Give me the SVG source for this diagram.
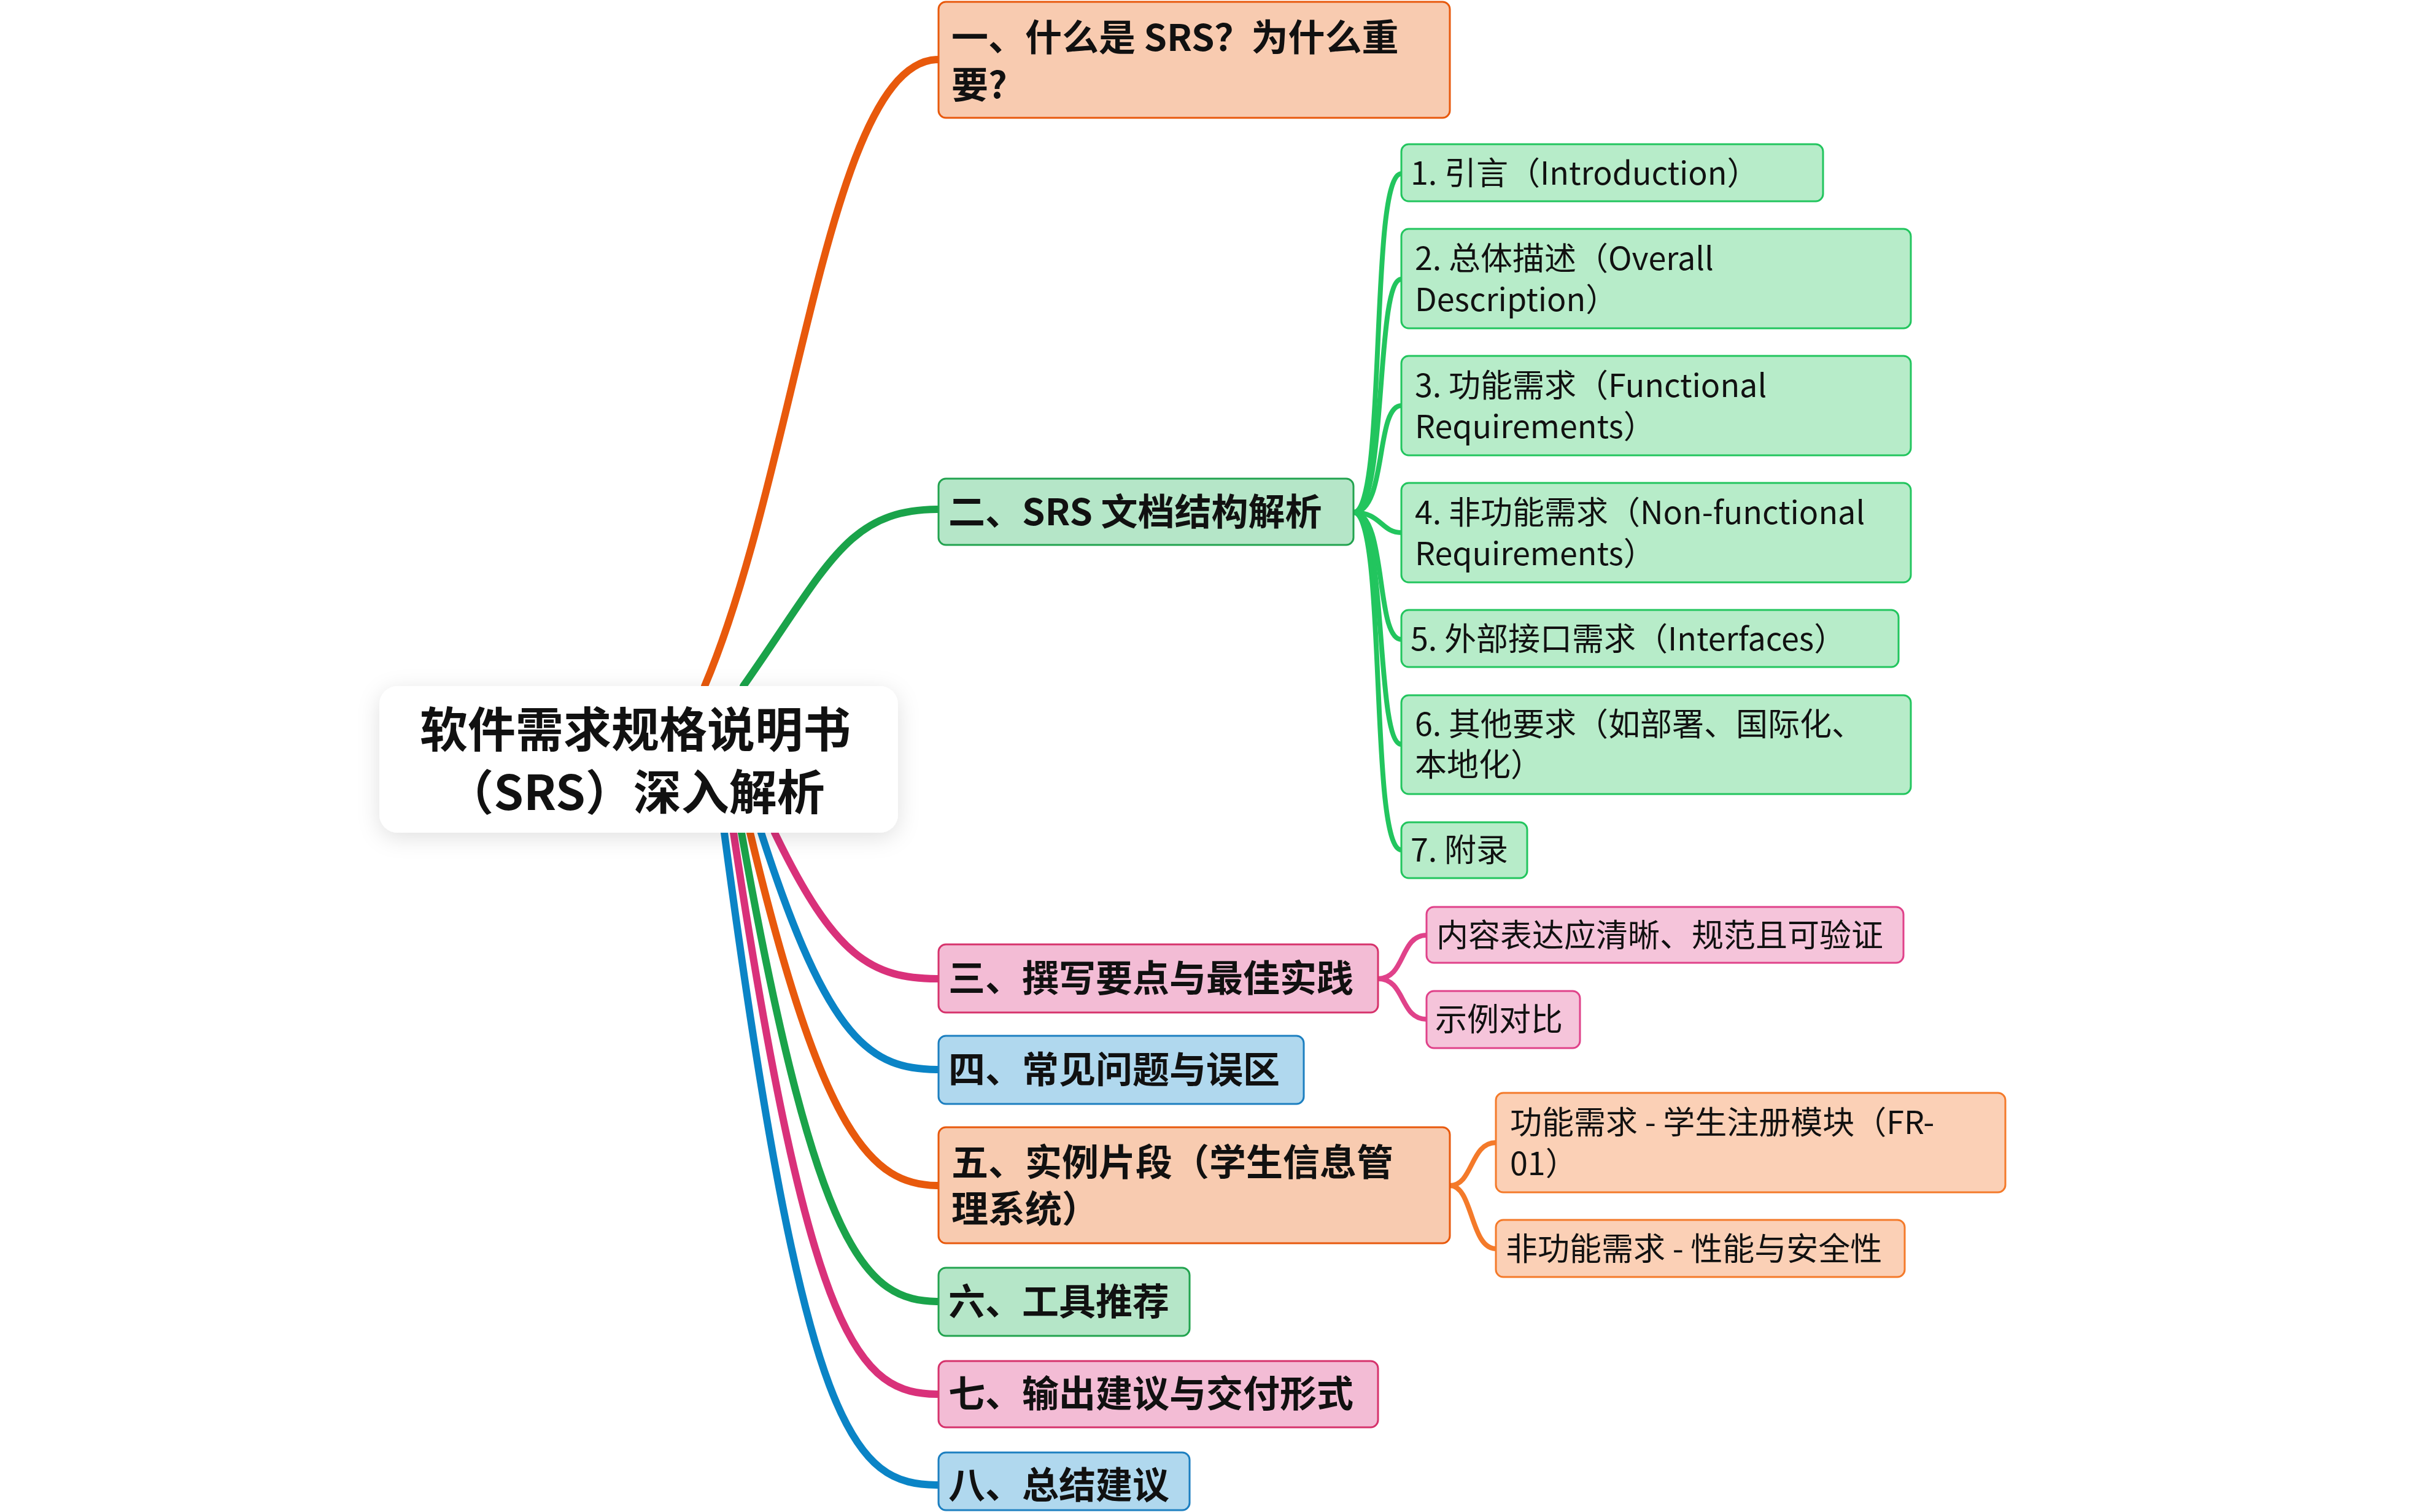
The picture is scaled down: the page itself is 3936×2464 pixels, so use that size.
<svg xmlns="http://www.w3.org/2000/svg" width="3936" height="2464" viewBox="0 0 3936 2464">
<defs>
<filter id="sh" x="-20%" y="-30%" width="140%" height="160%"><feDropShadow dx="0" dy="8" stdDeviation="18" flood-color="#000" flood-opacity="0.12"/></filter>
<style>
text{font-family:"Noto Sans CJK SC","Noto Sans",sans-serif;fill:#111}
.r{font-size:78px;font-weight:700}
.l1{font-size:60px;font-weight:700}
.l2{font-size:52px}
.c{fill:none;stroke-width:12;stroke-linecap:round}
.c2{fill:none;stroke-width:8;stroke-linecap:round}
.o{fill:#f8cbb0;stroke:#e8590c;stroke-width:3}
.g{fill:#b5e6c8;stroke:#22a34f;stroke-width:3}
.gc{fill:#b7ecc9;stroke:#22c55e;stroke-width:3}
.p{fill:#f3bcd5;stroke:#d6336c;stroke-width:3}
.pc{fill:#f5c4da;stroke:#e0428a;stroke-width:3}
.b{fill:#b0d8ee;stroke:#1c7fc0;stroke-width:3}
.oc{fill:#fbd0b6;stroke:#f47a2a;stroke-width:3}
</style>
</defs>
<g id="connectors">
<path class="c" stroke="#e8590c" d="M1148 1118 C1300 760 1350 97 1529 97"/>
<path class="c" stroke="#1aa34a" d="M1211 1118 C1350 920 1380 830 1529 830"/>
<path class="c" stroke="#d9317a" d="M1262 1357 C1360 1560 1420 1595 1529 1595"/>
<path class="c" stroke="#0a84c6" d="M1240 1357 C1350 1700 1420 1743 1529 1743"/>
<path class="c" stroke="#e8590c" d="M1222 1357 C1340 1850 1420 1932 1529 1932"/>
<path class="c" stroke="#1aa34a" d="M1208 1357 C1330 2040 1410 2121 1529 2121"/>
<path class="c" stroke="#d9317a" d="M1195 1357 C1320 2190 1400 2272 1529 2272"/>
<path class="c" stroke="#0a84c6" d="M1180 1357 C1310 2340 1390 2420 1529 2420"/>
<g stroke="#22c55e">
<path class="c2" d="M2205 835 C2260 835 2230 283 2283 283"/>
<path class="c2" d="M2205 835 C2260 835 2240 455 2283 455"/>
<path class="c2" d="M2205 835 C2260 835 2240 661 2283 661"/>
<path class="c2" d="M2205 835 C2250 835 2250 868 2283 868"/>
<path class="c2" d="M2205 835 C2260 835 2240 1042 2283 1042"/>
<path class="c2" d="M2205 835 C2260 835 2240 1213 2283 1213"/>
<path class="c2" d="M2205 835 C2260 835 2230 1385 2283 1385"/>
</g>
<path class="c2" stroke="#e0428a" d="M2245 1595 C2290 1595 2280 1524 2324 1524"/>
<path class="c2" stroke="#e0428a" d="M2245 1595 C2290 1595 2280 1661 2324 1661"/>
<path class="c2" stroke="#f47a2a" d="M2362 1932 C2400 1932 2395 1862 2437 1862"/>
<path class="c2" stroke="#f47a2a" d="M2362 1932 C2400 1932 2395 2035 2437 2035"/>
</g>
<g id="root"><rect x="618" y="1118" width="845" height="239" rx="30" fill="#fff" filter="url(#sh)"/>
<text class="r" x="1035" y="1218" text-anchor="middle">软件需求规格说明书</text>
<text class="r" x="1035" y="1320" text-anchor="middle">（SRS）深入解析</text></g>
<g id="n1"><rect class="o" x="1529" y="3" width="833" height="189" rx="12"/><text class="l1" x="1550" y="83">一、什么是 SRS？为什么重</text><text class="l1" x="1550" y="160">要?</text></g>
<g id="n2"><rect class="g" x="1529" y="780" width="676" height="108" rx="12"/><text class="l1" x="1545" y="856">二、SRS 文档结构解析</text></g>
<g id="n3"><rect class="p" x="1529" y="1539" width="716" height="111" rx="12"/><text class="l1" x="1545" y="1616">三、撰写要点与最佳实践</text></g>
<g id="n4"><rect class="b" x="1529" y="1688" width="595" height="111" rx="12"/><text class="l1" x="1545" y="1765">四、常见问题与误区</text></g>
<g id="n5"><rect class="o" x="1529" y="1837" width="833" height="189" rx="12"/><text class="l1" x="1550" y="1916">五、实例片段（学生信息管</text><text class="l1" x="1550" y="1992">理系统）</text></g>
<g id="n6"><rect class="g" x="1529" y="2066" width="409" height="111" rx="12"/><text class="l1" x="1545" y="2143">六、工具推荐</text></g>
<g id="n7"><rect class="p" x="1529" y="2218" width="716" height="108" rx="12"/><text class="l1" x="1545" y="2293">七、输出建议与交付形式</text></g>
<g id="n8"><rect class="b" x="1529" y="2367" width="409" height="94" rx="12"/><text class="l1" x="1545" y="2442">八、总结建议</text></g>
<g id="s1"><rect class="gc" x="2283" y="235" width="687" height="93" rx="12"/><text class="l2" x="2298" y="301">1. 引言（Introduction）</text></g>
<g id="s2"><rect class="gc" x="2283" y="373" width="830" height="162" rx="12"/><text class="l2" x="2305" y="440">2. 总体描述（Overall</text><text class="l2" x="2305" y="507">Description）</text></g>
<g id="s3"><rect class="gc" x="2283" y="580" width="830" height="162" rx="12"/><text class="l2" x="2305" y="647">3. 功能需求（Functional</text><text class="l2" x="2305" y="714">Requirements）</text></g>
<g id="s4"><rect class="gc" x="2283" y="787" width="830" height="162" rx="12"/><text class="l2" x="2305" y="854">4. 非功能需求（Non-functional</text><text class="l2" x="2305" y="921">Requirements）</text></g>
<g id="s5"><rect class="gc" x="2283" y="994" width="810" height="93" rx="12"/><text class="l2" x="2298" y="1060">5. 外部接口需求（Interfaces）</text></g>
<g id="s6"><rect class="gc" x="2283" y="1133" width="830" height="161" rx="12"/><text class="l2" x="2305" y="1199">6. 其他要求（如部署、国际化、</text><text class="l2" x="2305" y="1265">本地化）</text></g>
<g id="s7"><rect class="gc" x="2283" y="1340" width="205" height="91" rx="12"/><text class="l2" x="2298" y="1404">7. 附录</text></g>
<g id="p1"><rect class="pc" x="2324" y="1478" width="777" height="91" rx="12"/><text class="l2" x="2340" y="1543">内容表达应清晰、规范且可验证</text></g>
<g id="p2"><rect class="pc" x="2324" y="1615" width="250" height="93" rx="12"/><text class="l2" x="2338" y="1680">示例对比</text></g>
<g id="o1"><rect class="oc" x="2437" y="1781" width="830" height="162" rx="12"/><text class="l2" x="2460" y="1848">功能需求 - 学生注册模块（FR-</text><text class="l2" x="2460" y="1915">01）</text></g>
<g id="o2"><rect class="oc" x="2437" y="1988" width="666" height="93" rx="12"/><text class="l2" x="2453" y="2054">非功能需求 - 性能与安全性</text></g>
</svg>
